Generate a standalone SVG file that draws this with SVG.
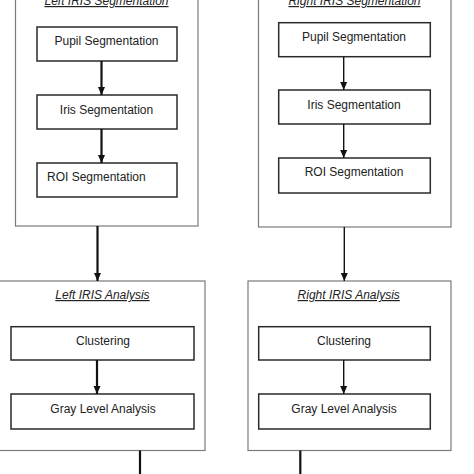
<svg xmlns="http://www.w3.org/2000/svg" width="474" height="474" viewBox="0 0 474 474">
<defs>
<style>
.outer{fill:#fff;stroke:#7a7a7a;stroke-width:1.2}
.inner{fill:#fff;stroke:#2a2a2a;stroke-width:1.5}
.t{font-family:"Liberation Sans",Arial,sans-serif;font-size:12px;fill:#222;text-anchor:middle}
.title{font-style:italic;text-decoration:underline}
.c{stroke:#111;fill:none}
.thick{stroke-width:2.2}
.thin{stroke-width:1.4}
</style>
<marker id="ah" viewBox="0 0 8 8" refX="8" refY="4" markerWidth="8" markerHeight="8" markerUnits="userSpaceOnUse" orient="auto">
<path d="M0,0.5 L8,4 L0,7.5 Z" fill="#111"/>
</marker>
</defs>
<rect width="474" height="474" fill="#fff"/>

<g id="left-seg">
<rect class="outer" x="15.5" y="-5" width="182.5" height="231"/>
<text class="t title" x="106.5" y="5">Left IRIS Segmentation</text>
</g>
<g id="left-pupil"><rect class="inner" x="37" y="27" width="140" height="34"/><text class="t" x="106.5" y="45">Pupil Segmentation</text></g>
<g id="left-iris"><rect class="inner" x="37" y="95" width="140" height="34"/><text class="t" x="106.5" y="114">Iris Segmentation</text></g>
<g id="left-roi"><rect class="inner" x="37" y="163" width="140" height="34"/><text class="t" x="47" y="181" style="text-anchor:start">ROI Segmentation</text></g>

<g id="right-seg">
<rect class="outer" x="258.5" y="-5" width="192.5" height="232"/>
<text class="t title" x="354.5" y="5">Right IRIS Segmentation</text>
</g>
<g id="right-pupil"><rect class="inner" x="278.7" y="22.7" width="151.6" height="34"/><text class="t" x="354" y="40.5">Pupil Segmentation</text></g>
<g id="right-iris"><rect class="inner" x="278.7" y="90" width="151.6" height="34"/><text class="t" x="354" y="109">Iris Segmentation</text></g>
<g id="right-roi"><rect class="inner" x="278.7" y="158" width="151.6" height="35"/><text class="t" x="354" y="176">ROI Segmentation</text></g>

<g id="left-analysis">
<rect class="outer" x="-2" y="281" width="207" height="169.5"/>
<text class="t title" x="102.5" y="299">Left IRIS Analysis</text>
</g>
<g id="left-clustering"><rect class="inner" x="11" y="326.7" width="183" height="33.3"/><text class="t" x="103" y="345">Clustering</text></g>
<g id="left-gray"><rect class="inner" x="11" y="394" width="183" height="35"/><text class="t" x="103" y="412.5">Gray Level Analysis</text></g>

<g id="right-analysis">
<rect class="outer" x="248" y="281" width="203" height="169.5"/>
<text class="t title" x="348.7" y="299">Right IRIS Analysis</text>
</g>
<g id="right-clustering"><rect class="inner" x="258.7" y="326.7" width="171.6" height="33.3"/><text class="t" x="344" y="345">Clustering</text></g>
<g id="right-gray"><rect class="inner" x="258.7" y="394" width="171.6" height="35"/><text class="t" x="344" y="412.5">Gray Level Analysis</text></g>

<g id="connectors">
<line class="c thick" x1="101.5" y1="61" x2="101.5" y2="95" marker-end="url(#ah)"/>
<line class="c thick" x1="101.5" y1="129" x2="101.5" y2="163" marker-end="url(#ah)"/>
<line class="c thin" x1="343.7" y1="56.7" x2="343.7" y2="90" marker-end="url(#ah)"/>
<line class="c thin" x1="343.7" y1="124" x2="343.7" y2="158" marker-end="url(#ah)"/>
<line class="c thick" x1="97.5" y1="226" x2="97.5" y2="281" marker-end="url(#ah)"/>
<line class="c thin" x1="344.3" y1="227" x2="344.3" y2="281" marker-end="url(#ah)"/>
<line class="c thick" x1="97" y1="360" x2="97" y2="394" marker-end="url(#ah)"/>
<line class="c thin" x1="343.7" y1="360" x2="343.7" y2="394" marker-end="url(#ah)"/>
<line class="c thick" x1="140" y1="450.5" x2="140" y2="474"/>
<line class="c thick" x1="300.3" y1="450.5" x2="300.3" y2="474"/>
</g>
</svg>
